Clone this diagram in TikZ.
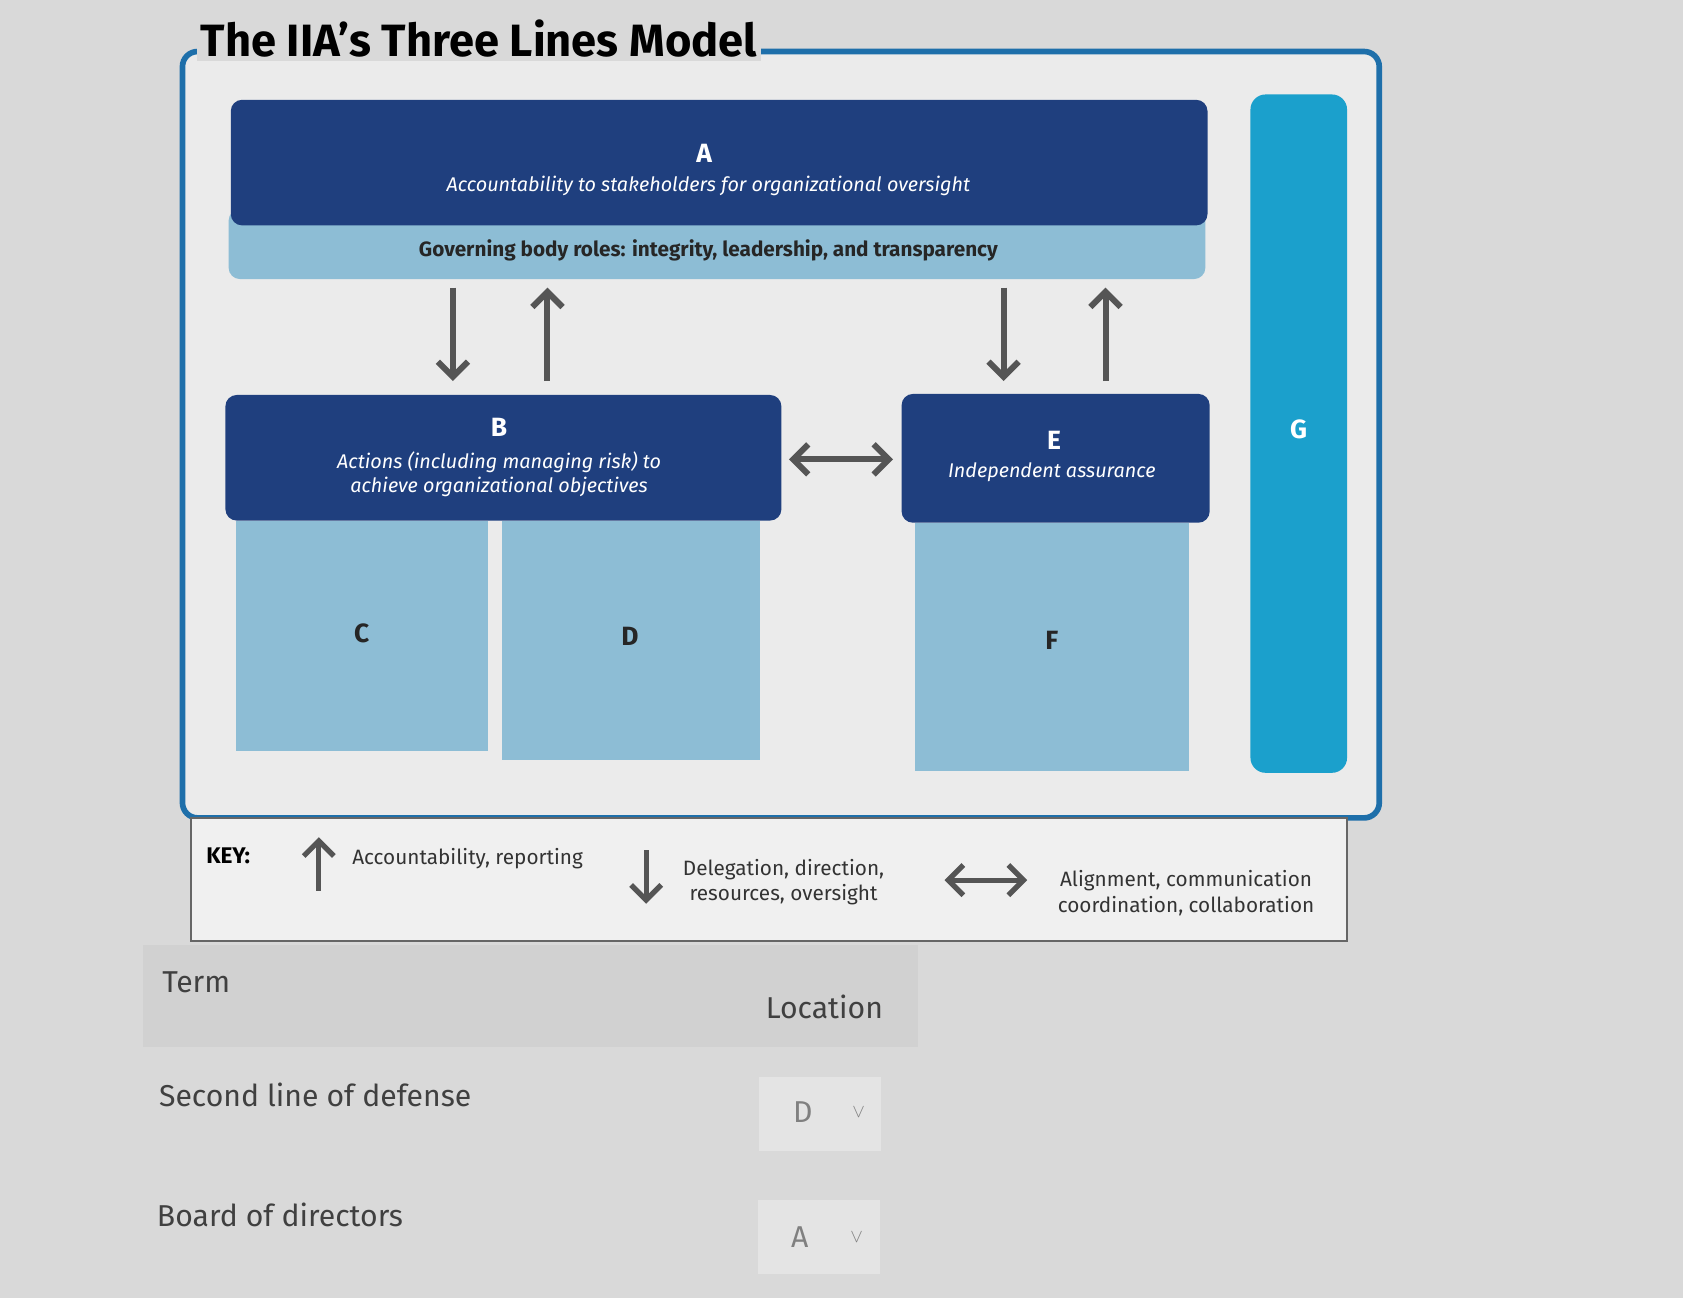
\documentclass[tikz,border=0pt]{standalone}
\usepackage{fontspec}
\setmainfont{Fira Sans}
\usetikzlibrary{arrows.meta}
\definecolor{bg}{HTML}{D9D9D9}
\definecolor{navy}{HTML}{1F3F7E}
\definecolor{lblue}{HTML}{8DBDD5}
\definecolor{frame}{HTML}{1E6FAA}
\definecolor{gbar}{HTML}{1BA0CC}
\definecolor{arr}{HTML}{555555}
\tikzset{
 wt/.style={text=white,font=\fontsize{10.5}{13}\selectfont\itshape,align=center},
 wl/.style={text=white,font=\fontsize{14}{16}\selectfont\bfseries},
 bl/.style={font=\fontsize{14}{16}\selectfont\bfseries,text=black!85},
 ar/.style={draw=arr,line width=3.2pt,-{Straight Barb[length=8pt,width=16pt]}},
 dar/.style={draw=arr,line width=3.2pt,{Straight Barb[length=8pt,width=16pt]}-{Straight Barb[length=8pt,width=16pt]}},
 keyt/.style={font=\fontsize{11}{13.5}\selectfont,text=black!80,align=center},
 tt/.style={font=\fontsize{16}{18}\selectfont,text=black!75,anchor=west},
 dd/.style={draw=black!15,fill=bg!70!white,minimum width=2.3cm,minimum height=1.4cm}
}
\begin{document}
\begin{tikzpicture}[x=0.02cm,y=-0.02cm]
\fill[bg] (0,0) rectangle (1568,1209);
\useasboundingbox (0,0) rectangle (1568,1209);
\draw[frame,line width=3pt,fill=black!8,rounded corners=8pt] (170,48) rectangle (1285,762);
\node[anchor=west,font=\fontsize{24}{28}\selectfont\bfseries,fill=bg,inner sep=2pt] (title) at (183,36) {The IIA’s Three Lines Model};
% G
\fill[gbar,rounded corners=8pt] (1165,88) rectangle (1255,720);
\node[wl] (G) at (1210,400) {G};
% strip and A
\fill[lblue,rounded corners=6pt] (213,195) rectangle (1123,260);
\node[font=\fontsize{11}{13}\selectfont\bfseries,text=black!85] (gov) at (660,233) {Governing body roles: integrity, leadership, and transparency};
\fill[navy,rounded corners=6pt] (215,93) rectangle (1125,210);
\node[wl] (A) at (656,143) {A};
\node[wt] (At) at (660,173) {Accountability to stakeholders for organizational oversight};
% C D F
\fill[lblue] (220,485) rectangle (455,700);
\node[bl] (C) at (337,590) {C};
\fill[lblue] (468,485) rectangle (708,708);
\node[bl] (D) at (587,593) {D};
\fill[lblue] (852,487) rectangle (1108,718);
\node[bl] (F) at (980,597) {F};
% B E
\fill[navy,rounded corners=6pt] (210,368) rectangle (728,485);
\node[wl] (B) at (465,398) {B};
\node[wt] (Bt) at (465,442) {Actions (including managing risk) to\\achieve organizational objectives};
\fill[navy,rounded corners=6pt] (840,367) rectangle (1127,487);
\node[wl] (E) at (982,410) {E};
\node[wt] (Et) at (980,440) {Independent assurance};
% arrows
\coordinate (a1) at (422,268); \coordinate (a2) at (422,355);
\coordinate (b1) at (510,355); \coordinate (b2) at (510,268);
\coordinate (c1) at (935,268); \coordinate (c2) at (935,355);
\coordinate (d1) at (1030,355); \coordinate (d2) at (1030,268);
\draw[ar] (a1)--(a2); \draw[ar] (b1)--(b2);
\draw[ar] (c1)--(c2); \draw[ar] (d1)--(d2);
\coordinate (h1) at (735,428); \coordinate (h2) at (832,428);
\draw[dar] (h1)--(h2);
% key
\draw[black!60,fill=black!6,line width=1pt] (178,762) rectangle (1255,877);
\node[font=\fontsize{12}{14}\selectfont\bfseries,anchor=west] (key) at (186,797) {KEY:};
\coordinate (k1) at (297,830); \coordinate (k2) at (297,780);
\draw[ar,line width=2.8pt] (k1)--(k2);
\node[keyt,anchor=west] (k1t) at (322,800) {Accountability, reporting};
\coordinate (k3) at (602,792); \coordinate (k4) at (602,842);
\draw[ar,line width=2.8pt] (k3)--(k4);
\node[keyt] (k2t) at (730,822) {Delegation, direction,\\resources, oversight};
\coordinate (k5) at (880,820); \coordinate (k6) at (957,820);
\draw[dar,line width=2.8pt] (k5)--(k6);
\node[keyt] (k3t) at (1105,832) {Alignment, communication\\coordination, collaboration};
% table
\fill[black!18] (133,880) rectangle (855,975);
\node[tt] (term) at (145,915) {Term};
\node[tt,anchor=center] (loc) at (768,938) {Location};
\node[tt] (r1) at (142,1020) {Second line of defense};
\node[dd] (dd1) at (764,1038) {};
\node[tt,anchor=center,text=black!50] (dv1) at (748,1036) {D};
\node[text=black!50,font=\bfseries] (ch1) at (800,1036) {$\vee$};
\node[tt] (r2) at (140,1132) {Board of directors};
\node[dd] (dd2) at (763,1152) {};
\node[tt,anchor=center,text=black!50] (dv2) at (745,1153) {A};
\node[text=black!50,font=\bfseries] (ch2) at (798,1153) {$\vee$};
\end{tikzpicture}
\end{document}
